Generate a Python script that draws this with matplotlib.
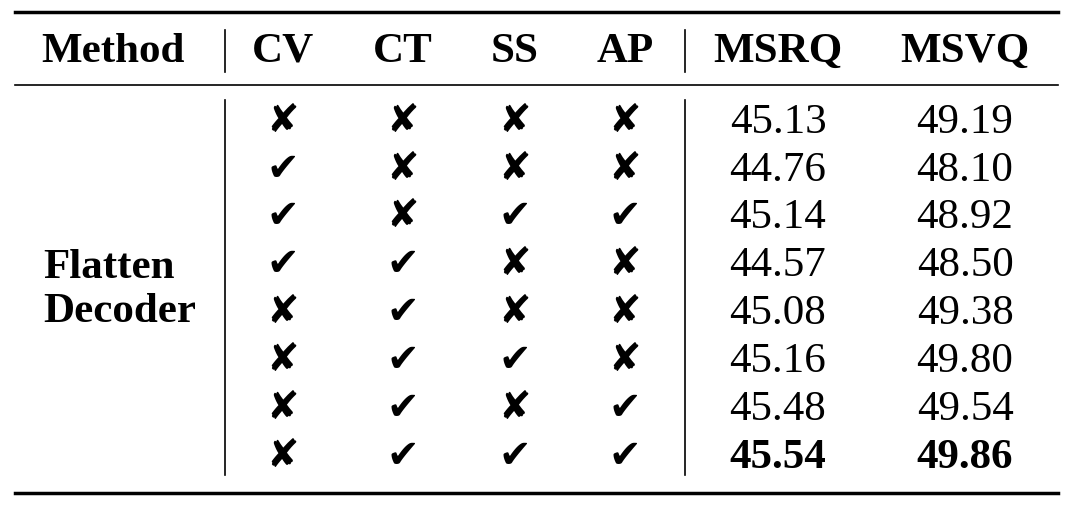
import matplotlib
matplotlib.use("Agg")
import matplotlib.pyplot as plt

headers = ["Method", "CV", "CT", "SS", "AP", "MSRQ", "MSVQ"]
method = "Flatten\nDecoder"
cv = [0, 1, 1, 1, 0, 0, 0, 0]
ct = [0, 0, 0, 1, 1, 1, 1, 1]
ss = [0, 0, 1, 0, 0, 1, 0, 1]
ap = [0, 0, 1, 0, 0, 0, 1, 1]
msrq = ["45.13", "44.76", "45.14", "44.57", "45.08", "45.16", "45.48", "45.54"]
msvq = ["49.19", "48.10", "48.92", "48.50", "49.38", "49.80", "49.54", "49.86"]
best = 7

W, H = 1080, 507
fig = plt.figure(figsize=(W/100, H/100), dpi=100)
ax = fig.add_axes([0, 0, 1, 1])
ax.set_xlim(0, W); ax.set_ylim(H, 0); ax.axis("off")
serif = "Liberation Serif"
colx = [113, 283, 403, 515, 625, 778, 965]
rowy = [123, 171, 218, 266, 314, 362, 410, 458]
fs = 31

ax.plot([15, 1058], [12, 12], color="black", lw=2.5)
ax.plot([15, 1058], [85, 85], color="black", lw=1.2)
ax.plot([15, 1058], [493, 493], color="black", lw=2.5)
for x in (225, 685):
    ax.plot([x, x], [30, 72], color="black", lw=1.2)
    ax.plot([x, x], [100, 475], color="black", lw=1.2)

for x, h in zip(colx, headers):
    ax.text(x, 52, h, ha="center", va="center", fontsize=fs, fontweight="bold", family=serif)
ax.text(43, 290, method, ha="left", va="center", fontsize=fs, fontweight="bold",
        family=serif, linespacing=1.2)

for j, col in enumerate([cv, ct, ss, ap]):
    for i, v in enumerate(col):
        ax.text(colx[j+1], rowy[i] - 2, "\u2714" if v else "\u2718", ha="center", va="center",
                fontsize=28, family="DejaVu Sans")
for i in range(len(msrq)):
    w = "bold" if i == best else "normal"
    ax.text(colx[5], rowy[i], msrq[i], ha="center", va="center", fontsize=fs, family=serif, fontweight=w)
    ax.text(colx[6], rowy[i], msvq[i], ha="center", va="center", fontsize=fs, family=serif, fontweight=w)

fig.savefig("out.png", dpi=100, facecolor="white")
